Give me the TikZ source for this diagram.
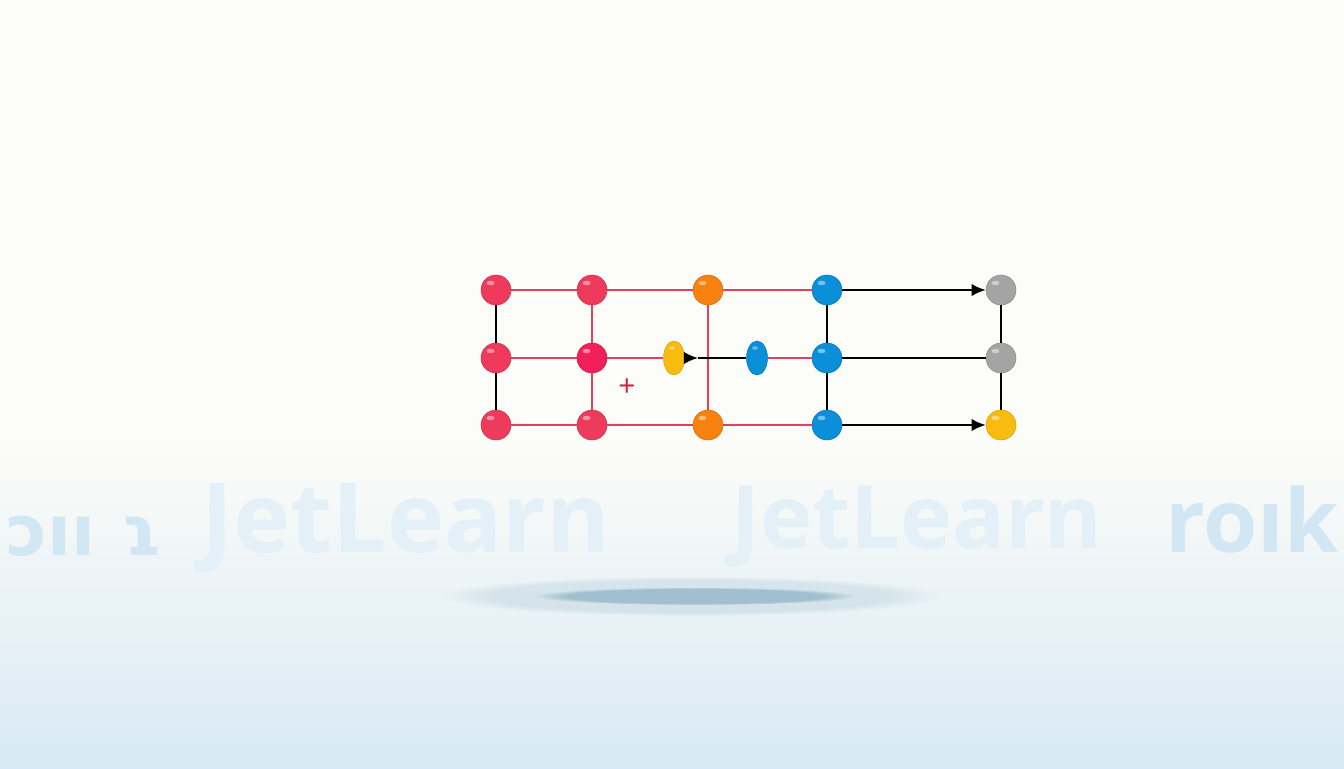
\documentclass[tikz,border=0pt]{standalone}
\usepackage{fontspec}
\setmainfont{Open Sans}
\newfontfamily\dejavu{DejaVu Sans}
\usetikzlibrary{arrows.meta}
\usetikzlibrary{fadings}
\usetikzlibrary{shapes.geometric}
\usetikzlibrary{positioning}

\definecolor{bgtop}{HTML}{FCFCF8}
\definecolor{bgbot}{HTML}{D8E9F5}
\definecolor{dotred}{HTML}{EE3A5B}
\definecolor{dotpink}{HTML}{F0205A}
\definecolor{dotorange}{HTML}{F7820F}
\definecolor{dotblue}{HTML}{0A8FD8}
\definecolor{dotgray}{HTML}{A4A4A4}
\definecolor{dotyellow}{HTML}{F8BC10}
\definecolor{linered}{HTML}{E2405F}
\definecolor{plusred}{HTML}{D0203E}
\definecolor{wmark}{HTML}{E3F0F8}
\definecolor{wmarkdark}{HTML}{D2E7F4}
\definecolor{shadowblue}{HTML}{7FA8BD}

\tikzset{
  ball/.style={circle,inner sep=0pt,minimum size=0.6cm,fill=#1,draw=#1!85!black,line width=0.3pt,
    path picture={\fill[white,opacity=.45,rotate=30] ([xshift=-0.11cm,yshift=0.14cm]path picture bounding box.center) ellipse (0.08cm and 0.045cm);}},
  bean/.style={ellipse,inner sep=0pt,minimum width=0.42cm,minimum height=0.68cm,fill=#1,draw=#1!85!black,line width=0.3pt,
    path picture={\fill[white,opacity=.4] ([xshift=-0.04cm,yshift=0.2cm]path picture bounding box.center) ellipse (0.06cm and 0.035cm);}},
  redline/.style={linered,line width=1.1pt},
  blackline/.style={black,line width=1.1pt},
  watermark/.style={anchor=base,font=\bfseries\fontsize{#1}{#1}\selectfont}
}

\begin{document}
\begin{tikzpicture}[x=0.02cm,y=-0.02cm,every path/.style={>={Latex[length=8pt,width=7pt]}}]
	\useasboundingbox (0,0) rectangle (1344,768);
	
	% background
	\fill[bgtop] (0,0) rectangle (1344,440);
	\shade[top color=bgtop,bottom color=bgbot] (0,440) rectangle (1344,768);
	
	% watermark texts
	\node[watermark=55,wmark] (wm1) at (406,552) {JetLearn};
	\node[watermark=50,wmark] (wm2) at (917,548) {JetLearn};
	\node[watermark=50,wmarkdark] (wm3) at (1252,552) {roık};
	\node[watermark=40,wmarkdark,anchor=base west,font=\dejavu\bfseries\fontsize{40}{40}\selectfont] (wm4) at (0,555) {ɔıı ɿ};
	
	% shadow under the grid
	\fill[shadowblue,opacity=.2,path fading=circle with fuzzy edge 20 percent] (690,596) ellipse (250 and 20);
	\fill[shadowblue,opacity=.6,path fading=circle with fuzzy edge 20 percent] (695,596) ellipse (160 and 9);
	
	% draw dots
	\foreach \r/\y in {1/290,2/358,3/425}
	{
		\node[ball=dotred] (\r-1) at (496,\y) {};
	}
	\node[ball=dotred] (1-2) at (592,290) {};
	\node[ball=dotpink] (2-2) at (592,358) {};
	\node[ball=dotred] (3-2) at (592,425) {};
	\node[ball=dotorange] (1-3) at (708,290) {};
	\node[ball=dotorange] (3-3) at (708,425) {};
	\foreach \r/\y in {1/290,2/358,3/425}
	{
		\node[ball=dotblue] (\r-4) at (827,\y) {};
	}
	\node[ball=dotgray] (1-5) at (1001,290) {};
	\node[ball=dotgray] (2-5) at (1001,358) {};
	\node[ball=dotyellow] (3-5) at (1001,425) {};
	
	% draw the two beans in the middle row
	\node[bean=dotyellow] (ybean) at (674,358) {};
	\node[bean=dotblue] (bbean) at (757,358) {};
	\coordinate (ytip) at (698,358);
	
	% red connections
	\draw[redline] (1-1) -- (1-2);
	\draw[redline] (1-2) -- (1-3);
	\draw[redline] (1-3) -- (1-4);
	\draw[redline] (2-1) -- (2-2);
	\draw[redline] (2-2) -- (ybean);
	\draw[redline] (bbean) -- (2-4);
	\draw[redline] (3-1) -- (3-2);
	\draw[redline] (3-2) -- (3-3);
	\draw[redline] (3-3) -- (3-4);
	\draw[redline] (1-2) -- (2-2);
	\draw[redline] (2-2) -- (3-2);
	\draw[redline] (1-3) -- (3-3);
	
	% black connections
	\draw[blackline] (1-1) -- (2-1);
	\draw[blackline] (2-1) -- (3-1);
	\draw[blackline] (1-4) -- (2-4);
	\draw[blackline] (2-4) -- (3-4);
	\draw[blackline] (1-5) -- (2-5);
	\draw[blackline] (2-5) -- (3-5);
	\draw[blackline] (ytip) -- (bbean);
	\draw[blackline,->] (ybean) -- (ytip);
	\draw[blackline,->] (1-4) -- (1-5);
	\draw[blackline] (2-4) -- (2-5);
	\draw[blackline,->] (3-4) -- (3-5);
	
	% plus sign
	\node[plusred,font=\fontsize{17}{17}\selectfont] (plus) at (627,388) {+};
\end{tikzpicture}
\end{document}
